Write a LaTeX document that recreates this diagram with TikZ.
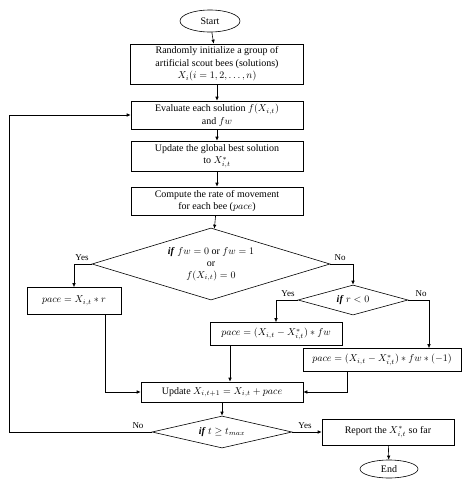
\documentclass[tikz,border=0pt]{standalone}
\usepackage{fontspec}
\setmainfont{Liberation Serif}
\usetikzlibrary{shapes.geometric,arrows.meta}

\begin{document}
\begin{tikzpicture}[x=1pt, y=-1pt, line width=0.6pt, >={Latex[length=4pt,width=3.5pt]},
    main/.style = {draw, rectangle, align=center, inner sep=1pt, font=\fontsize{10}{12.5}\selectfont},
    term/.style = {draw, ellipse, inner sep=1pt, font=\fontsize{10}{12}\selectfont},
    cond/.style = {draw, diamond, align=center, inner sep=0pt, font=\fontsize{10}{12}\selectfont},
    lbl/.style = {font=\fontsize{9}{10}\selectfont}]
        \useasboundingbox (0,0) rectangle (474,482);
        \node[term] (start) at (210,21) [minimum width=60, minimum height=22] {Start};
        \node[main] (init) at (217,64) [minimum width=173, minimum height=40] {Randomly initialize a group of\\ artificial scout bees (solutions)\\ $X_i(i = 1,2,\dots,n)$};
        \node[main] (eval) at (217,115) [minimum width=172, minimum height=28] {Evaluate each solution $f(X_{i,t})$\\ and $fw$};
        \node[main] (best) at (217,156) [minimum width=172, minimum height=30] {Update the global best solution\\ to $X^*_{i,t}$};
        \node[main] (rate) at (217,201) [minimum width=172, minimum height=28] {Compute the rate of movement\\ for each bee ($pace$)};
        \node[cond] (c1) at (211,264) [minimum width=238, minimum height=72, aspect=3.3] {\textbf{\textit{if}} $fw = 0$ or $fw = 1$\\ or\\ $f(X_{i,t}) = 0$};
        \node[main] (p1) at (74,301) [minimum width=94, minimum height=27] {$pace = X_{i,t} * r$};
        \node[cond] (c2) at (353,300) [minimum width=110, minimum height=30, aspect=3.7] {\textbf{\textit{if}} $r < 0$};
        \node[main] (p2) at (276,334) [minimum width=132, minimum height=23] {$pace = (X_{i,t} - X^*_{i,t}) * fw$};
        \node[main] (p3) at (382,360) [minimum width=158, minimum height=23] {$pace = (X_{i,t} - X^*_{i,t}) * fw * (-1)$};
        \node[main] (upd) at (222,392) [minimum width=162, minimum height=20] {Update $X_{i,t+1} = X_{i,t} + pace$};
        \node[cond] (c3) at (222,432) [minimum width=140, minimum height=32, aspect=4.4] {\textbf{\textit{if}} $t \ge t_{max}$};
        \node[main] (rep) at (388,432) [minimum width=132, minimum height=26] {Report the $X^*_{i,t}$ so far};
        \node[term] (end) at (389,469) [minimum width=58, minimum height=18] {End};
        % branch labels
        \node[lbl] (y1) at (82,258) {Yes};
        \node[lbl] (n1) at (340,258) {No};
        \node[lbl] (y2) at (288,294) {Yes};
        \node[lbl] (n2) at (421,294) {No};
        \node[lbl] (n3) at (138,426) {No};
        \node[lbl] (y3) at (305,426) {Yes};
        % connectors
        \draw[->] (start) -- (init);
        \draw[->] (init) -- (eval);
        \draw[->] (eval) -- (best);
        \draw[->] (best) -- (rate);
        \draw[->] (rate) -- (c1);
        \draw[->] (c1.west) -| (p1.north);
        \draw[->] (c1.east) -| (c2.north);
        \draw[->] (c2.west) -| (p2.north);
        \draw[->] (c2.east) -| ([xshift=47pt]p3.north);
        \draw[->] ([xshift=31pt]p1.south) |- (upd.west);
        \coordinate (p2out) at ([xshift=-46pt]p2.south);
        \draw[->] (p2out) -- (p2out |- upd.north);
        \draw[->] ([xshift=-35pt]p3.south) |- (upd.east);
        \draw[->] (upd) -- (c3);
        \draw[->] (c3) -- (rep);
        \draw[->] (rep) -- (end);
        \coordinate (back) at (9,432);
        \draw[->] (c3.west) -- (back) |- (eval.west);
\end{tikzpicture}
\end{document}
